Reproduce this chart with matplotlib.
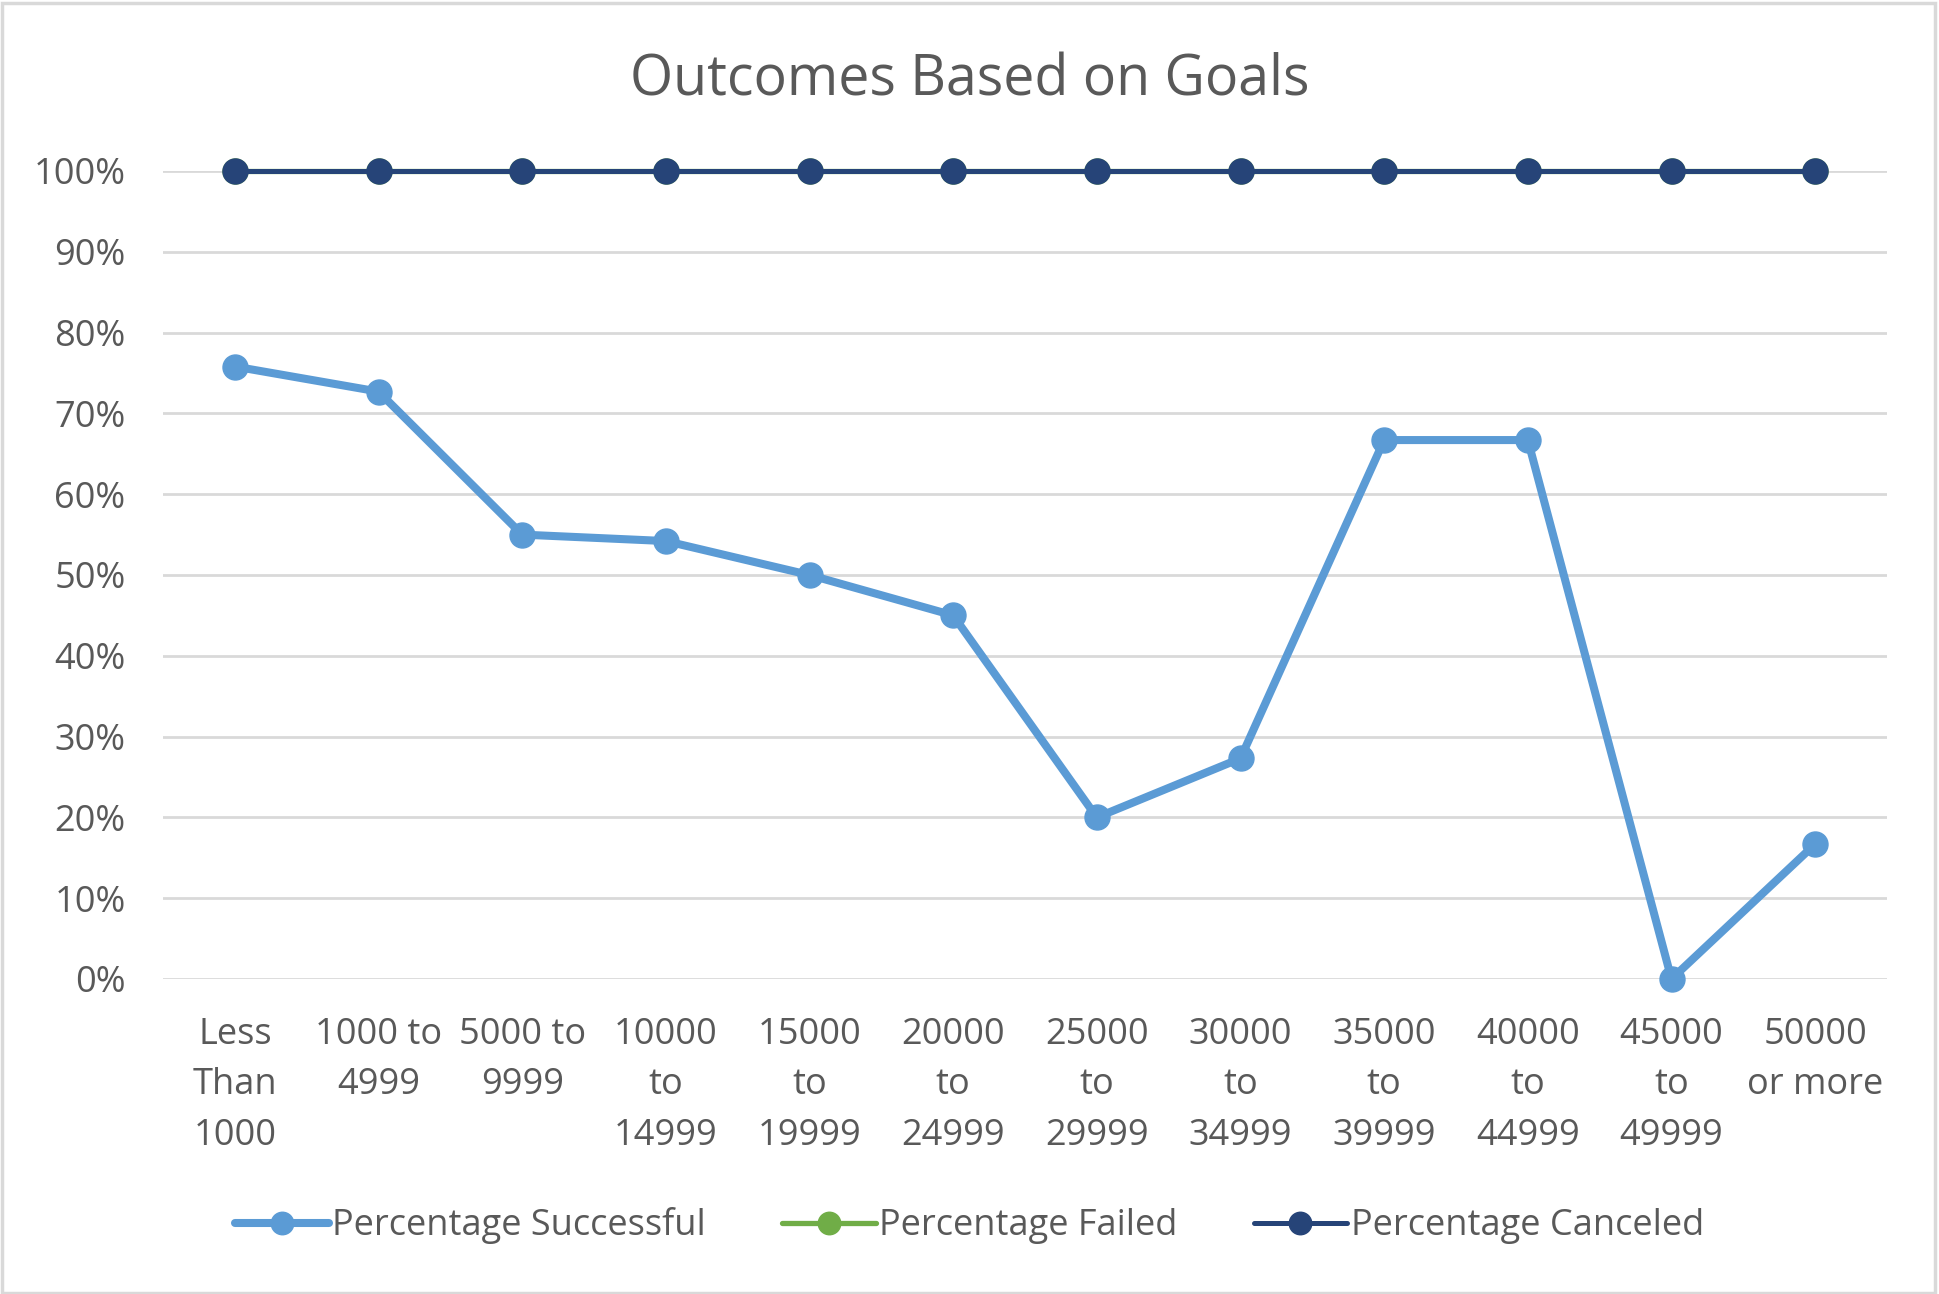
import matplotlib
matplotlib.use("Agg")
import matplotlib.pyplot as plt
import numpy as np
from matplotlib.ticker import PercentFormatter
from matplotlib.patches import Rectangle

categories = ["Less\nThan\n1000", "1000 to\n4999", "5000 to\n9999", "10000\nto\n14999",
              "15000\nto\n19999", "20000\nto\n24999", "25000\nto\n29999", "30000\nto\n34999",
              "35000\nto\n39999", "40000\nto\n44999", "45000\nto\n49999", "50000\nor more"]
pct_successful = [75.8, 72.7, 55.0, 54.2, 50.0, 45.0, 20.0, 27.3, 66.7, 66.7, 0.0, 16.7]
pct_failed = [24.2, 27.3, 45.0, 45.8, 50.0, 55.0, 80.0, 72.7, 33.3, 33.3, 100.0, 83.3]
pct_canceled = [0, 0, 0, 0, 0, 0, 0, 0, 0, 0, 0, 0]
series_names = ["Percentage Successful", "Percentage Failed", "Percentage Canceled"]
yticks = [0, 10, 20, 30, 40, 50, 60, 70, 80, 90, 100]

colors = ["#5B9BD5", "#70AD47", "#264478"]
text_color = "#595959"
font = "Open Sans"

W, H = 1939, 1294
fig = plt.figure(figsize=(W / 100, H / 100), dpi=100)
fig.patch.set_facecolor("white")
fig.patches.append(Rectangle((0.001, 0.001), 0.997, 0.997, transform=fig.transFigure,
                             fill=False, edgecolor="#D9D9D9", linewidth=2.5))

ax = fig.add_axes([163 / W, 1 - 979 / H, (1887 - 163) / W, (979 - 171) / H])
x = np.arange(len(categories)) + 0.5

stack = np.cumsum(np.array([pct_successful, pct_failed, pct_canceled], dtype=float), axis=0)
lws = [5.8, 3.8, 3.6]
handles = []
for i in range(3):
    h, = ax.plot(x, stack[i], color=colors[i], linewidth=lws[i], marker="o",
                 markersize=18, clip_on=False, zorder=3 + i, label=series_names[i],
                 solid_capstyle="round")
    handles.append(h)

ax.set_xlim(0, len(categories))
ax.set_ylim(0, 100)
ax.set_yticks(yticks)
ax.yaxis.set_major_formatter(PercentFormatter(decimals=0))
ax.set_xticks(x)
ax.set_xticklabels(categories, linespacing=1.55)
ax.grid(axis="y", color="#D9D9D9", linewidth=2)
ax.set_axisbelow(True)
for s in ax.spines.values():
    s.set_visible(False)
ax.tick_params(axis="both", length=0, labelsize=26, labelcolor=text_color)
ax.tick_params(axis="y", pad=27)
ax.tick_params(axis="x", pad=27)
for lab in ax.get_xticklabels() + ax.get_yticklabels():
    lab.set_fontfamily(font)

fig.text(0.5, 1 - 81 / H, "Outcomes Based on Goals", ha="center", va="center",
         fontsize=40, color=text_color, fontfamily=font)

leg = fig.legend(handles=handles, loc="center", bbox_to_anchor=(0.5, 1 - 1226 / H),
                 ncol=3, frameon=False, handlelength=2.6, handletextpad=0.1,
                 columnspacing=2.1, prop={"family": font, "size": 26}, labelcolor=text_color,
                 markerscale=0.9)

fig.savefig("out.png", dpi=100, facecolor="white")
